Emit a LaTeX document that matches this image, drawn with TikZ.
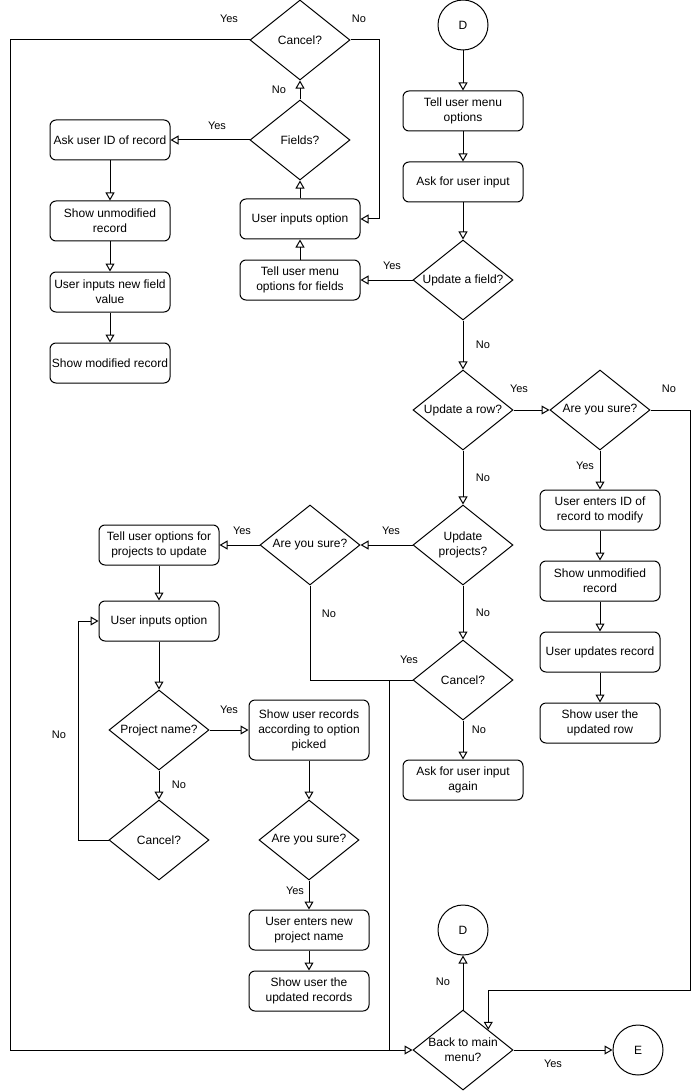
\documentclass[tikz,border=0pt]{standalone}
\usepackage{fontspec}
\setmainfont{Liberation Sans}
\usetikzlibrary{arrows.meta,positioning,shapes.geometric}
\newcommand{\zw}[1]{\makebox[0pt]{#1}}
\begin{document}
\begin{tikzpicture}[
        x=1pt, y=-1pt,
        line width=1pt,
        proc/.style={draw, rounded corners=6pt, minimum width=120pt, minimum height=40pt,
          inner sep=1pt, align=center, font=\fontsize{12}{15}\selectfont},
        decision/.style={draw, diamond, minimum width=100pt, minimum height=80pt,
          inner sep=0pt, align=center, font=\fontsize{12}{15}\selectfont},
        conn/.style={draw, circle, minimum size=50pt, inner sep=0pt, font=\fontsize{12}{15}\selectfont},
        lbl/.style={font=\fontsize{11}{13}\selectfont, inner sep=0pt},
        arrow/.style={-{Triangle[open, length=8pt, width=9pt]}}
      ]
        \useasboundingbox (0,0) rectangle (700,1091);
        % first branch: update a field
        \node[conn] (startD) at (463,25) {D};
        \node[proc, below=40pt of startD] (menu) {Tell user menu\\options};
        \node[proc, below=30pt of menu] (askInput) {Ask for user input};
        \node[decision] (updField) at (463,280) {\zw{Update a field?}};
        \node[proc] (menuFields) at (300,280) {Tell user menu\\options for fields};
        \node[proc, above=20pt of menuFields] (inputOpt) {User inputs option};
        \node[decision] (fields) at (300,140) {\zw{Fields?}};
        \node[decision] (cancelTop) at (300,40) {\zw{Cancel?}};
        \node[proc] (askID) at (110,140) {Ask user ID of record};
        \node[proc, below=40pt of askID] (showUnmod) {Show unmodified\\record};
        \node[proc, below=30pt of showUnmod] (inputVal) {User inputs new field\\value};
        \node[proc, below=30pt of inputVal] (showMod) {Show modified record};
        % second branch: update a row
        \node[decision] (updRow) at (463,410) {\zw{Update a row?}};
        \node[decision] (sureRow) at (600,410) {\zw{Are you sure?}};
        \node[proc] (enterID) at (600,510) {User enters ID of\\record to modify};
        \node[proc, below=30pt of enterID] (showUnmodRow) {Show unmodified\\record};
        \node[proc, below=30pt of showUnmodRow] (updRec) {User updates record};
        \node[proc, below=30pt of updRec] (showRow) {Show user the\\updated row};
        % third branch: update projects
        \node[decision] (updProj) at (463,545) {\zw{Update}\\\zw{projects?}};
        \node[decision] (sureProj) at (310,545) {\zw{Are you sure?}};
        \node[proc] (tellProj) at (159,545) {Tell user options for\\projects to update};
        \node[proc, below=35pt of tellProj] (inputProj) {User inputs option};
        \node[decision] (projName) at (159,730) {\zw{Project name?}};
        \node[decision] (cancelProj) at (159,840) {\zw{Cancel?}};
        \node[proc, minimum height=60pt] (showRecs) at (309,730) {Show user records\\according to option\\picked};
        \node[decision] (sureRecs) at (309,840) {\zw{Are you sure?}};
        \node[proc] (enterName) at (309,930) {User enters new\\project name};
        \node[proc, below=20pt of enterName] (showRecsUpd) {Show user the\\updated records};
        \node[decision] (cancelMid) at (463,680) {\zw{Cancel?}};
        \node[proc] (askAgain) at (463,780) {Ask for user input\\again};
        % back to main menu
        \node[conn] (endD) at (463,930) {D};
        \node[decision] (backMenu) at (463,1050) {\zw{Back to main}\\\zw{menu?}};
        \node[conn] (endE) at (638,1050) {E};
        \coordinate (leftRail) at (10,1050);
        \coordinate (midRail) at (389,1050);
        \coordinate (rightRail) at (690,990);

        \draw[arrow] (startD) -- (menu);
        \draw[arrow] (menu) -- (askInput);
        \draw[arrow] (askInput) -- (updField);
        \draw[arrow] (updField) -- (menuFields);
        \draw[arrow] (menuFields) -- (inputOpt);
        \draw[arrow] (inputOpt) -- (fields);
        \draw[arrow] (fields) -- (cancelTop);
        \draw[arrow] (fields) -- (askID);
        \draw[arrow] (askID) -- (showUnmod);
        \draw[arrow] (showUnmod) -- (inputVal);
        \draw[arrow] (inputVal) -- (showMod);
        \draw[arrow] (cancelTop.east) -- ++(29,0) |- (inputOpt.east);
        \draw[arrow] (cancelTop.west) -| (leftRail) -- (backMenu.west);
        \draw[arrow] (updField) -- (updRow);
        \draw[arrow] (updRow) -- (sureRow);
        \draw[arrow] (sureRow.east) -| (rightRail) -| (backMenu.north east);
        \draw[arrow] (sureRow) -- (enterID);
        \draw[arrow] (enterID) -- (showUnmodRow);
        \draw[arrow] (showUnmodRow) -- (updRec);
        \draw[arrow] (updRec) -- (showRow);
        \draw[arrow] (updRow) -- (updProj);
        \draw[arrow] (updProj) -- (sureProj);
        \draw[arrow] (sureProj) -- (tellProj);
        \draw[arrow] (tellProj) -- (inputProj);
        \draw[arrow] (inputProj) -- (projName);
        \draw[arrow] (projName) -- (showRecs);
        \draw[arrow] (projName) -- (cancelProj);
        \draw[arrow] (cancelProj.west) -- ++(-30,0) |- (inputProj.west);
        \draw[arrow] (showRecs) -- (sureRecs);
        \draw[arrow] (sureRecs) -- (enterName);
        \draw[arrow] (enterName) -- (showRecsUpd);
        \draw (sureProj.south) |- (cancelMid.west);
        \draw (cancelMid.west) -| (midRail);
        \draw[arrow] (updProj) -- (cancelMid);
        \draw[arrow] (cancelMid) -- (askAgain);
        \draw[arrow] (backMenu) -- (endD);
        \draw[arrow] (backMenu) -- (endE);

        \node[lbl] (lYesTop) at (229,19) {Yes};
        \node[lbl] (lNoTop) at (359,19) {No};
        \node[lbl] (lNoFields) at (279,90) {No};
        \node[lbl] (lYesFields) at (217,126) {Yes};
        \node[lbl] (lYesField) at (392,266) {Yes};
        \node[lbl] (lNoField) at (483,345) {No};
        \node[lbl] (lYesRow) at (519,389) {Yes};
        \node[lbl] (lNoSureRow) at (669,389) {No};
        \node[lbl] (lYesSureRow) at (585,466) {Yes};
        \node[lbl] (lNoRow) at (483,478) {No};
        \node[lbl] (lYesProj) at (391,531) {Yes};
        \node[lbl] (lYesSureProj) at (242,531) {Yes};
        \node[lbl] (lNoSureProj) at (329,614) {No};
        \node[lbl] (lNoProj) at (483,613) {No};
        \node[lbl] (lYesCancelMid) at (409,660) {Yes};
        \node[lbl] (lYesProjName) at (229,710) {Yes};
        \node[lbl] (lNoCancelMid) at (479,730) {No};
        \node[lbl] (lNoCancelProj) at (59,735) {No};
        \node[lbl] (lNoProjName) at (179,785) {No};
        \node[lbl] (lYesSureRecs) at (295,891) {Yes};
        \node[lbl] (lNoBack) at (443,982) {No};
        \node[lbl] (lYesBack) at (553,1064) {Yes};
      \end{tikzpicture}
\end{document}
